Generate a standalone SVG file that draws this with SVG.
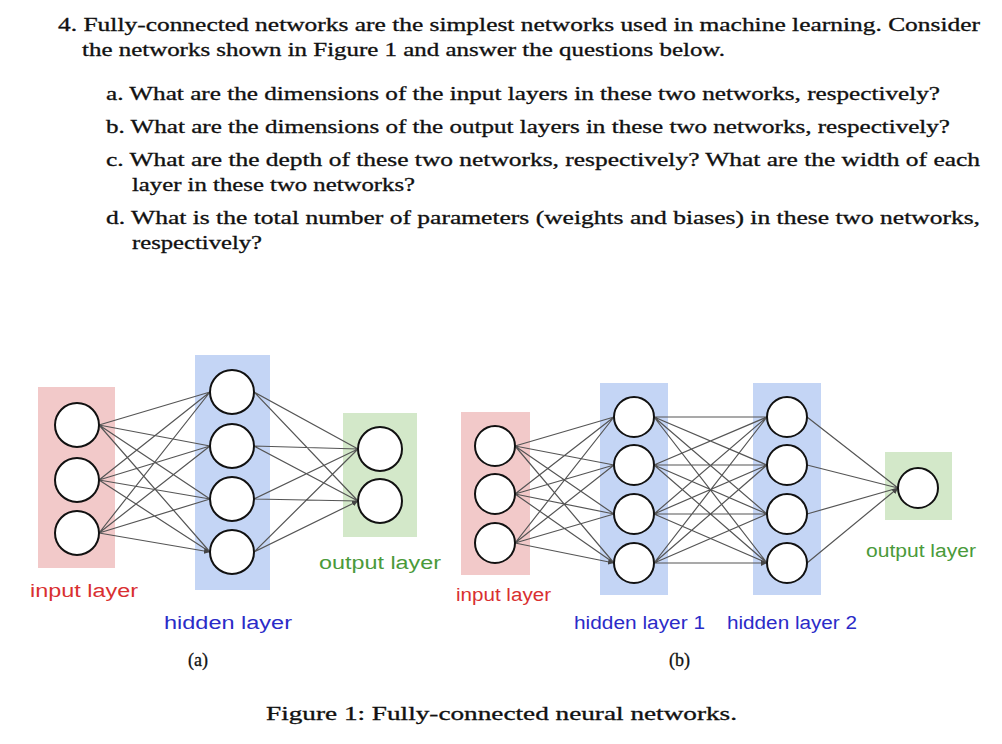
<svg xmlns="http://www.w3.org/2000/svg" width="1002" height="744" viewBox="0 0 1002 744">
<defs>
<marker id="ah" viewBox="0 0 10 10" refX="10" refY="5" markerWidth="5" markerHeight="5" orient="auto"><path d="M0,0L10,5L0,10z" fill="#444"/></marker>
<style>
.t{font-family:"Liberation Serif",serif;font-size:18px;fill:#111;stroke:#111;stroke-width:0.3}
.l{font-family:"Liberation Sans",sans-serif;font-size:18px}
.c{fill:#fff;stroke:#111;stroke-width:2}
.e{stroke:#555;stroke-width:1.2;fill:none;marker-end:url(#ah)}
</style>
</defs>
<rect width="1002" height="744" fill="#fff"/>
<g id="question">
<text class="t" x="58" y="31" textLength="922" lengthAdjust="spacingAndGlyphs">4. Fully-connected networks are the simplest networks used in machine learning. Consider</text>
<text class="t" x="82" y="56" textLength="643" lengthAdjust="spacingAndGlyphs">the networks shown in Figure 1 and answer the questions below.</text>
<text class="t" x="106" y="100" textLength="834" lengthAdjust="spacingAndGlyphs">a. What are the dimensions of the input layers in these two networks, respectively?</text>
<text class="t" x="106" y="133" textLength="844" lengthAdjust="spacingAndGlyphs">b. What are the dimensions of the output layers in these two networks, respectively?</text>
<text class="t" x="106" y="166" textLength="874" lengthAdjust="spacingAndGlyphs">c. What are the depth of these two networks, respectively? What are the width of each</text>
<text class="t" x="132" y="191" textLength="283" lengthAdjust="spacingAndGlyphs">layer in these two networks?</text>
<text class="t" x="106" y="224" textLength="874" lengthAdjust="spacingAndGlyphs">d. What is the total number of parameters (weights and biases) in these two networks,</text>
<text class="t" x="132" y="249" textLength="130" lengthAdjust="spacingAndGlyphs">respectively?</text>
</g>
<g id="layers">
<rect x="38" y="387" width="77" height="181" fill="#f2c9c9"/>
<rect x="195" y="355" width="75" height="235" fill="#c4d5f5"/>
<rect x="343" y="413" width="74" height="124" fill="#d3e8c9"/>
<rect x="461" y="412" width="69" height="163" fill="#f2c9c9"/>
<rect x="600" y="383" width="68" height="212" fill="#c4d5f5"/>
<rect x="753" y="383" width="68" height="212" fill="#c4d5f5"/>
<rect x="885" y="452" width="67" height="68" fill="#d3e8c9"/>
</g>
<g id="connectors">
<path class="e" d="M99,425L210,392M99,425L210,446M99,425L210,499M99,425L210,552M99,480L210,392M99,480L210,446M99,480L210,499M99,480L210,552M99,533L210,392M99,533L210,446M99,533L210,499M99,533L210,552"/>
<path class="e" d="M254,392L358,449M254,392L358,501M254,446L358,449M254,446L358,501M254,499L358,449M254,499L358,501M254,552L358,449M254,552L358,501"/>
<path class="e" d="M515,446L614,417M515,446L614,465M515,446L614,514M515,446L614,563M515,494L614,417M515,494L614,465M515,494L614,514M515,494L614,563M515,543L614,417M515,543L614,465M515,543L614,514M515,543L614,563"/>
<path class="e" d="M654,417L767,417M654,417L767,465M654,417L767,514M654,417L767,563M654,465L767,417M654,465L767,465M654,465L767,514M654,465L767,563M654,514L767,417M654,514L767,465M654,514L767,514M654,514L767,563M654,563L767,417M654,563L767,465M654,563L767,514M654,563L767,563"/>
<path class="e" d="M807,417L898,488M807,465L898,488M807,514L898,488M807,563L898,488"/>
</g>
<g id="nodes">
<circle class="c" cx="77" cy="425" r="22"/><circle class="c" cx="77" cy="480" r="22"/><circle class="c" cx="77" cy="533" r="22"/>
<circle class="c" cx="232" cy="392" r="22"/><circle class="c" cx="232" cy="446" r="22"/><circle class="c" cx="232" cy="499" r="22"/><circle class="c" cx="232" cy="552" r="22"/>
<circle class="c" cx="380" cy="449" r="22"/><circle class="c" cx="380" cy="501" r="22"/>
<circle class="c" cx="495" cy="446" r="20"/><circle class="c" cx="495" cy="494" r="20"/><circle class="c" cx="495" cy="543" r="20"/>
<circle class="c" cx="634" cy="417" r="20"/><circle class="c" cx="634" cy="465" r="20"/><circle class="c" cx="634" cy="514" r="20"/><circle class="c" cx="634" cy="563" r="20"/>
<circle class="c" cx="787" cy="417" r="20"/><circle class="c" cx="787" cy="465" r="20"/><circle class="c" cx="787" cy="514" r="20"/><circle class="c" cx="787" cy="563" r="20"/>
<circle class="c" cx="918" cy="488" r="20"/>
</g>
<g id="labels">
<text class="l" x="30" y="597" fill="#d93030" textLength="108" lengthAdjust="spacingAndGlyphs">input layer</text>
<text class="l" x="164" y="629" fill="#2b2bc8" textLength="128" lengthAdjust="spacingAndGlyphs">hidden layer</text>
<text class="l" x="319" y="569" fill="#4a9a3a" textLength="122" lengthAdjust="spacingAndGlyphs">output layer</text>
<text class="l" x="456" y="601" fill="#d93030" font-size="17" textLength="95" lengthAdjust="spacingAndGlyphs">input layer</text>
<text class="l" x="574" y="629" fill="#2b2bc8" font-size="16" textLength="131" lengthAdjust="spacingAndGlyphs">hidden layer 1</text>
<text class="l" x="727" y="629" fill="#2b2bc8" font-size="16" textLength="130" lengthAdjust="spacingAndGlyphs">hidden layer 2</text>
<text class="l" x="866" y="557" fill="#4a9a3a" font-size="16" textLength="110" lengthAdjust="spacingAndGlyphs">output layer</text>
<text class="t" x="188" y="666">(a)</text>
<text class="t" x="669" y="666">(b)</text>
<text class="t" x="266" y="720" textLength="471" lengthAdjust="spacingAndGlyphs">Figure 1: Fully-connected neural networks.</text>
</g>
</svg>
